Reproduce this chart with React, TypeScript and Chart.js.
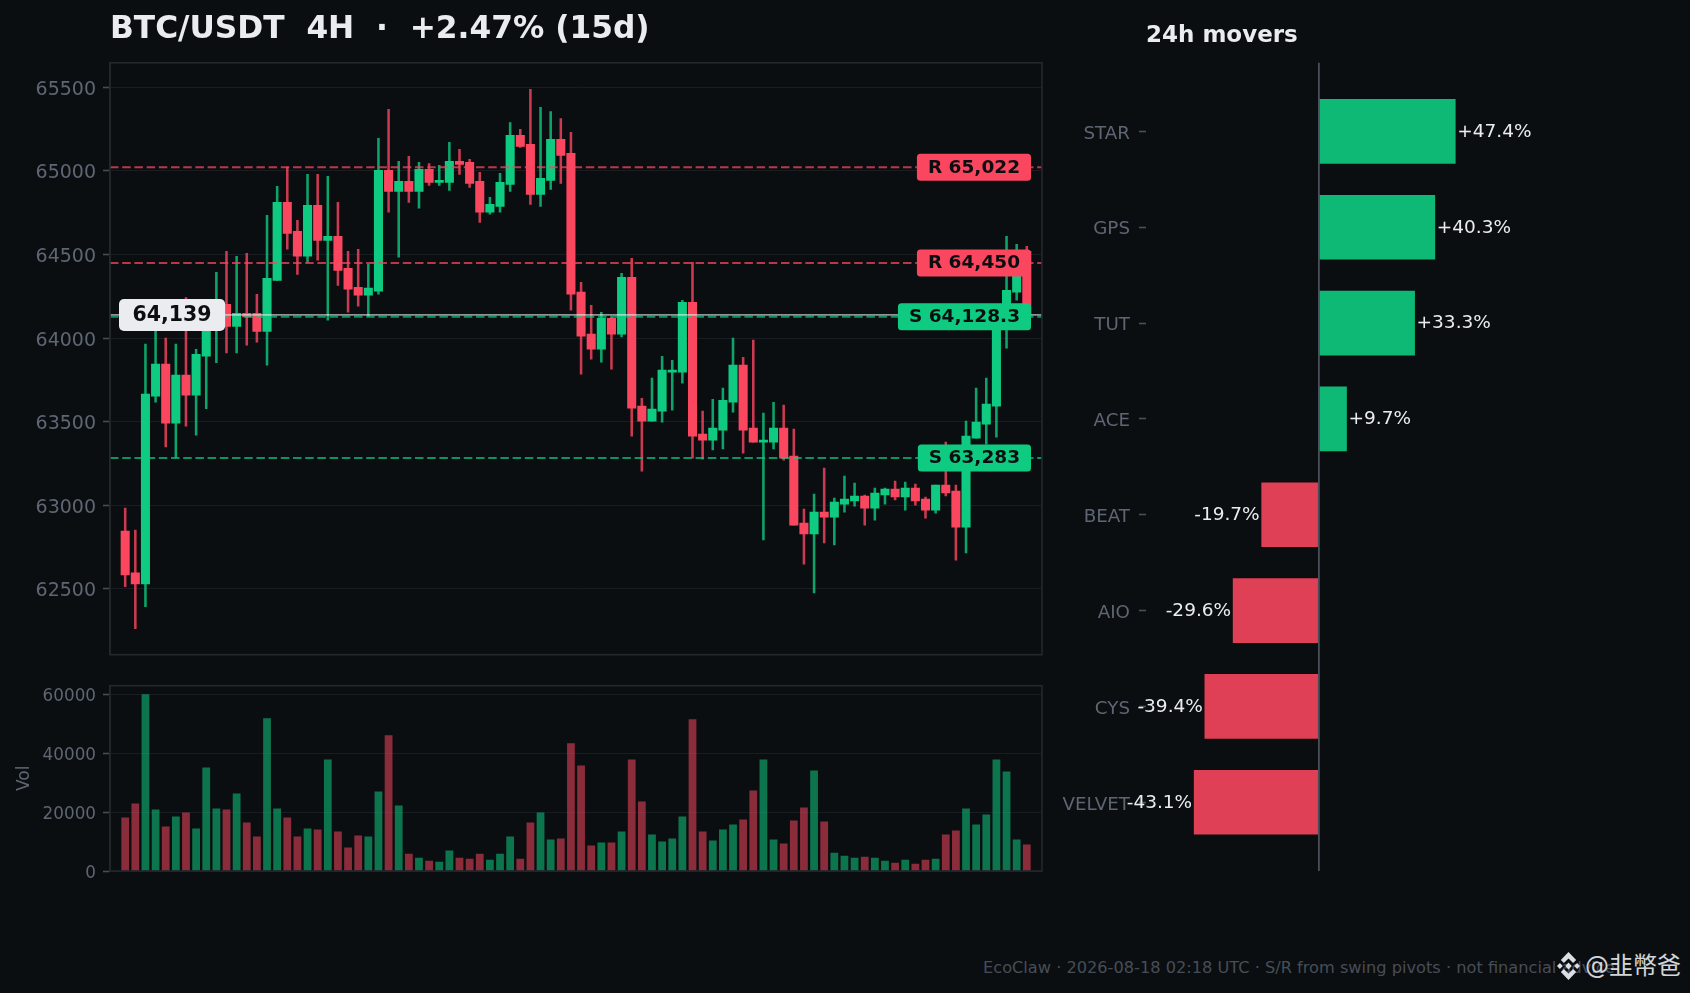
import React, { useEffect, useRef } from "react";
import { Chart, registerables } from "chart.js";

Chart.register(...registerables);

const opens = [62847,62596,62530,63653,63845,63492,63779,63659,63892,64100,64203,64071,64149,64149,64041,64346,64812,64639,64490,64794,64585,64609,64418,64304,64257,64281,65004,64878,64938,64878,65010,64932,64932,65057,65051,64938,64753,64788,64920,65213,65159,64860,64944,65189,65105,64275,64024,63934,64119,64024,64364,63594,63504,63564,63797,63797,64215,63426,63390,63450,63617,63839,63462,63378,63378,63462,63295,62894,62829,62960,62930,63008,63026,63056,62984,63062,63098,63050,63104,63038,62972,63121,63086,62870,63402,63486,63594,64139,64275,64520];
const closes = [62584,62530,63665,63845,63492,63779,63659,63904,64100,64203,64071,64149,64127,64041,64358,64812,64627,64490,64794,64585,64609,64406,64293,64257,64299,65004,64878,64938,64878,65010,64932,64944,65057,65039,64926,64753,64800,64932,65213,65147,64860,64956,65189,65093,64263,64012,63934,64119,64024,64364,63582,63504,63576,63809,63809,64215,63414,63390,63462,63629,63839,63450,63378,63390,63462,63283,62882,62829,62960,62930,63020,63038,63056,62984,63074,63098,63050,63104,63026,62972,63121,63074,62870,63414,63498,63606,64140,64286,64370,64139];
const highs = [62984,62853,63964,64080,64000,63964,64243,63934,64130,64394,64520,64490,64508,64263,64735,64908,65024,64705,64980,64980,64968,64812,64520,64532,64442,65195,65368,65057,65087,65051,65045,65034,65171,65129,65069,64992,64842,64986,65290,65249,65488,65380,65356,65314,65231,64334,64197,64155,64125,64388,64478,63641,63761,63892,63868,64227,64454,63564,63635,63701,64000,63886,63988,63552,63617,63600,63456,62978,63068,63223,63044,63175,63133,63062,63104,63104,63145,63139,63127,63050,63121,63378,63121,63504,63701,63761,64150,64609,64561,64549];
const lows = [62514,62263,62394,63617,63350,63287,63474,63420,63578,63853,63912,63912,63958,63976,63839,64346,64532,64382,64454,64466,64107,64316,64155,64191,64131,64263,64753,64484,64812,64777,64914,64914,64884,64980,64902,64693,64741,64753,64878,65141,64800,64788,64890,64926,64167,63785,63874,63857,63815,64008,63414,63205,63504,63498,63570,63731,63283,63277,63331,63337,63558,63313,63378,62793,63337,63271,62882,62649,62476,62775,62763,62960,62996,62882,62912,63008,63032,62972,63002,62924,62954,63056,62673,62715,63402,63366,63408,63940,64227,64128];
const volumes = [18060,22830,60000,20790,15000,18400,19770,14310,35100,21130,20790,26240,16360,11590,51800,21130,18060,11590,14310,13970,37830,13290,7840,11930,11590,26920,46000,22150,5790,4430,3410,3070,6820,4430,4090,5790,3750,5790,11590,4090,16360,19770,10560,10900,43280,35780,8520,9540,9540,13290,37830,23520,12270,9880,10900,18400,51460,13290,10220,13970,15680,17380,27260,37830,10560,9200,17040,21470,34080,16700,6130,5110,4430,4770,4430,3410,2730,3750,2390,3750,4090,12270,13630,21130,15680,19080,37830,33740,10560,8860];

const priceTicks = [62500, 63000, 63500, 64000, 64500, 65000, 65500];
const volumeTicks = [0, 20000, 40000, 60000];
const resistanceLevels = [65022, 64450];
const supportLevels = [64128.3, 63283];
const lastPrice = 64139;

const moverNames = ["STAR", "GPS", "TUT", "ACE", "BEAT", "AIO", "CYS", "VELVET"];
const moverValues = [47.4, 40.3, 33.3, 9.7, -19.7, -29.6, -39.4, -43.1];

const mainTitle = "BTC/USDT  4H  ·  +2.47% (15d)";
const sideTitle = "24h movers";
const footerText = "EcoClaw · 2026-08-18 02:18 UTC · S/R from swing pivots · not financial advice";
const watermarkText = "@韭幣爸";

const FONT = '"DejaVu Sans", sans-serif';
const BG = "#0b0e11";
const GREEN = "#0ecb81";
const RED = "#fb4660";
const xRange = { min: -1.5, max: 90.5 };
const idx = opens.map((_, i) => i);
const isUp = (i: number) => closes[i] >= opens[i];

function rrect(ctx: CanvasRenderingContext2D, x: number, y: number, w: number, h: number, r: number) {
  ctx.beginPath();
  ctx.roundRect(x, y, w, h, r);
}

const fixAxis = (width: number) => (s: any) => {
  s.width = width;
  s.paddingTop = 0;
  s.paddingBottom = 0;
};

const framePlugin = {
  id: "frame",
  afterDraw(chart: any) {
    const { ctx, chartArea: a } = chart;
    ctx.save();
    ctx.strokeStyle = "#23282e";
    ctx.lineWidth = 1.6;
    ctx.strokeRect(a.left, a.top, a.right - a.left, a.bottom - a.top);
    ctx.restore();
  },
};

const levelLabelPlugin = {
  id: "levelLabels",
  afterDraw(chart: any) {
    const { ctx, scales, chartArea: a } = chart;
    const y = scales.y;
    const fmt = (v: number) =>
      v.toLocaleString("en-US", { maximumFractionDigits: 1 });
    const pill = (text: string, value: number, fill: string) => {
      ctx.font = `bold 18.5px ${FONT}`;
      const w = ctx.measureText(text).width;
      const right = a.right - 11;
      const py = y.getPixelForValue(value);
      ctx.fillStyle = fill;
      rrect(ctx, right - w - 22, py - 13.5, w + 22, 27, 3.5);
      ctx.fill();
      ctx.fillStyle = BG;
      ctx.textAlign = "right";
      ctx.textBaseline = "middle";
      ctx.fillText(text, right - 11, py + 0.5);
    };
    ctx.save();
    resistanceLevels.forEach((v) => pill(`R ${fmt(v)}`, v, RED));
    supportLevels.forEach((v) => pill(`S ${fmt(v)}`, v, GREEN));
    // last price tag
    const py = y.getPixelForValue(lastPrice);
    ctx.font = `bold 20.5px ${FONT}`;
    const text = fmt(lastPrice);
    const w = ctx.measureText(text).width;
    ctx.fillStyle = "#eaecef";
    rrect(ctx, a.left + 9, py - 16, w + 27, 32, 5);
    ctx.fill();
    ctx.fillStyle = BG;
    ctx.textAlign = "left";
    ctx.textBaseline = "middle";
    ctx.fillText(text, a.left + 9 + 13.5, py + 0.5);
    ctx.restore();
  },
};

const moverLabelPlugin = {
  id: "moverLabels",
  afterDraw(chart: any) {
    const { ctx, scales } = chart;
    ctx.save();
    ctx.font = `18.5px ${FONT}`;
    ctx.fillStyle = "#eaecef";
    ctx.textBaseline = "middle";
    moverValues.forEach((v, i) => {
      const px = scales.x.getPixelForValue(v);
      const py = scales.y.getPixelForValue(i);
      const t = `${v > 0 ? "+" : ""}${v.toFixed(1)}%`;
      ctx.textAlign = v > 0 ? "left" : "right";
      ctx.fillText(t, px + (v > 0 ? 2 : -2), py + 0.5);
    });
    ctx.restore();
  },
};

function MainChart() {
  const ref = useRef<HTMLCanvasElement>(null);
  useEffect(() => {
    const lineDs = (level: number, color: string, dash: number[], width: number) => ({
      type: "line",
      data: [
        { x: xRange.min, y: level },
        { x: xRange.max, y: level },
      ],
      borderColor: color,
      borderWidth: width,
      borderDash: dash,
      pointRadius: 0,
      order: 0,
    });
    const chart = new Chart(ref.current!, {
      type: "bar",
      data: {
        datasets: [
          lineDs(lastPrice, "rgba(234,236,239,0.6)", [], 1.8),
          ...resistanceLevels.map((l) => lineDs(l, "rgba(246,70,93,0.75)", [8.5, 3.7], 2)),
          ...supportLevels.map((l) => lineDs(l, "rgba(14,203,129,0.7)", [8.5, 3.7], 2)),
          {
            type: "bar",
            grouped: false,
            order: 1,
            barThickness: 8.4,
            data: idx.map((i) => ({ x: i, y: [opens[i], closes[i]] })),
            backgroundColor: idx.map((i) => (isUp(i) ? GREEN : RED)),
          },
          {
            type: "bar",
            grouped: false,
            order: 2,
            barThickness: 1.9,
            data: idx.map((i) => ({ x: i, y: [lows[i], highs[i]] })),
            backgroundColor: idx.map((i) => (isUp(i) ? "rgba(14,203,129,0.8)" : "rgba(251,70,96,0.8)")),
          },
        ] as any,
      },
      options: {
        animation: false,
        responsive: false,
        events: [],
        layout: { padding: { left: 0, right: 18, top: 0, bottom: 15.3 } },
        plugins: {
          legend: { display: false },
          tooltip: { enabled: false },
          title: {
            display: true,
            text: mainTitle,
            align: "start",
            fullSize: false,
            color: "#eaecef",
            font: { family: FONT, size: 31.25, weight: "bold" },
            padding: { top: 11.4, bottom: 13.9 },
          },
        },
        scales: {
          x: { type: "linear", display: false, offset: false, grid: { offset: false }, ...xRange },
          y: {
            min: 62107,
            max: 65647,
            afterBuildTicks: (s: any) => {
              s.ticks = priceTicks.map((value) => ({ value }));
            },
            afterFit: fixAxis(110),
            border: { color: "#23282e", width: 1.6 },
            grid: { color: "rgba(30,35,41,0.75)", lineWidth: 1, tickColor: "#474d57", tickLength: 7, tickWidth: 1.6 },
            ticks: {
              autoSkip: false,
              color: "#5e6673",
              padding: 7,
              labelOffset: 2.5,
              font: { family: FONT, size: 19 },
              callback: (v: any) => String(v),
            },
          },
        },
      } as any,
      plugins: [framePlugin, levelLabelPlugin],
    });
    return () => chart.destroy();
  }, []);
  return <canvas ref={ref} width={1060} height={670} style={{ position: "absolute", left: 0, top: 0 }} />;
}

function VolumeChart() {
  const ref = useRef<HTMLCanvasElement>(null);
  useEffect(() => {
    const chart = new Chart(ref.current!, {
      type: "bar",
      data: {
        datasets: [
          {
            grouped: false,
            barThickness: 7.1,
            data: idx.map((i) => ({ x: i, y: volumes[i] })),
            backgroundColor: idx.map((i) => (isUp(i) ? "rgba(14,203,129,0.55)" : "rgba(246,70,93,0.55)")),
          },
        ] as any,
      },
      options: {
        animation: false,
        responsive: false,
        events: [],
        layout: { padding: { left: 0, right: 18, top: 15.7, bottom: 22 } },
        plugins: { legend: { display: false }, tooltip: { enabled: false } },
        scales: {
          x: { type: "linear", display: false, offset: false, grid: { offset: false }, ...xRange },
          y: {
            min: 0,
            max: 63000,
            afterBuildTicks: (s: any) => {
              s.ticks = volumeTicks.map((value) => ({ value }));
            },
            afterFit: fixAxis(110),
            title: {
              display: true,
              text: "Vol",
              color: "#5e6673",
              font: { family: FONT, size: 17 },
              padding: { top: 14, bottom: 0 },
            },
            border: { color: "#23282e", width: 1.6 },
            grid: { color: "rgba(30,35,41,0.75)", lineWidth: 1, tickColor: "#474d57", tickLength: 7, tickWidth: 1.6 },
            ticks: {
              autoSkip: false,
              color: "#5e6673",
              padding: 7,
              labelOffset: 2.5,
              font: { family: FONT, size: 16.8 },
              callback: (v: any) => String(v),
            },
          },
        },
      } as any,
      plugins: [framePlugin],
    });
    return () => chart.destroy();
  }, []);
  return <canvas ref={ref} width={1060} height={223} style={{ position: "absolute", left: 0, top: 670 }} />;
}

function MoversChart() {
  const ref = useRef<HTMLCanvasElement>(null);
  useEffect(() => {
    const chart = new Chart(ref.current!, {
      type: "bar",
      data: {
        datasets: [
          {
            grouped: false,
            barThickness: 64,
            data: moverValues.map((v, i) => ({ x: v, y: i })),
            backgroundColor: moverValues.map((v) => (v >= 0 ? "rgba(14,203,129,0.9)" : "rgba(246,70,93,0.9)")),
          },
        ] as any,
      },
      options: {
        animation: false,
        responsive: false,
        indexAxis: "y",
        events: [],
        layout: { padding: { left: 0, right: 190, top: 0, bottom: 22 } },
        plugins: {
          legend: { display: false },
          tooltip: { enabled: false },
          title: {
            display: true,
            text: sideTitle,
            align: "start",
            fullSize: false,
            color: "#eaecef",
            font: { family: FONT, size: 23, weight: "bold" },
            padding: { top: 22.2, bottom: 12.9 },
          },
        },
        scales: {
          x: {
            type: "linear",
            min: -59.8,
            max: 62.9,
            offset: false,
            afterBuildTicks: (s: any) => {
              s.ticks = [{ value: 0 }];
            },
            border: { display: false },
            grid: { offset: false, color: "#4a5059", lineWidth: 1.8, z: 1, drawTicks: false },
            ticks: { display: false },
          },
          y: {
            type: "linear",
            reverse: true,
            min: -0.717,
            max: 7.717,
            offset: false,
            afterBuildTicks: (s: any) => {
              s.ticks = moverNames.map((_, i) => ({ value: i }));
            },
            afterFit: fixAxis(96),
            border: { display: false },
            grid: { offset: false, drawOnChartArea: false, tickColor: "#4a5059", tickLength: 7, tickWidth: 1.6 },
            ticks: {
              autoSkip: false,
              color: "#5e6673",
              padding: 9,
              labelOffset: 2.5,
              font: { family: FONT, size: 18.3 },
              callback: (v: any) => moverNames[v],
            },
          },
        },
      } as any,
      plugins: [moverLabelPlugin],
    });
    return () => chart.destroy();
  }, []);
  return <canvas ref={ref} width={640} height={893} style={{ position: "absolute", left: 1050, top: 0 }} />;
}

export default function App() {
  useEffect(() => {
    document.body.style.margin = "0";
    document.body.style.background = BG;
  }, []);
  return (
    <div style={{ position: "absolute", left: 0, top: 0, width: 1690, height: 993, background: BG, overflow: "hidden" }}>
      <MainChart />
      <VolumeChart />
      <MoversChart />
      <div
        style={{
          position: "absolute",
          left: 983,
          top: 957,
          font: `16.2px ${FONT}`,
          lineHeight: "22px",
          color: "#474d57",
          whiteSpace: "nowrap",
        }}
      >
        {footerText}
      </div>
      <svg width="23" height="28" viewBox="0 0 24 28" preserveAspectRatio="none" style={{ position: "absolute", left: 1556.7, top: 951.7 }}>
        <g fill="#dcdee2">
          <path d="M12 0 L20 8 L16.8 11 L12 6.4 L7.2 11 L4 8 Z" />
          <path d="M12 28 L20 20 L16.8 17 L12 21.6 L7.2 17 L4 20 Z" />
          <path d="M0 14 L3 11 L6 14 L3 17 Z" />
          <path d="M18 14 L21 11 L24 14 L21 17 Z" />
          <path d="M12 10.6 L15.4 14 L12 17.4 L8.6 14 Z" />
        </g>
      </svg>
      <div
        style={{
          position: "absolute",
          left: 1585,
          top: 949,
          font: `24px "DejaVu Sans", "Noto Sans CJK TC", sans-serif`,
          lineHeight: "34px",
          color: "#e4e6e9",
          opacity: 0.92,
          whiteSpace: "nowrap",
        }}
      >
        {watermarkText}
      </div>
    </div>
  );
}
